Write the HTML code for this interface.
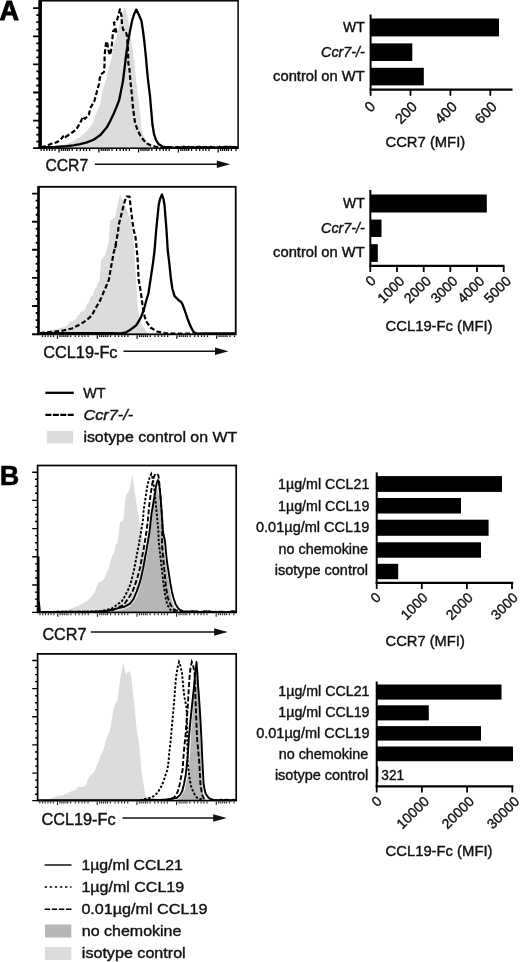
<!DOCTYPE html>
<html><head><meta charset="utf-8"><title>Figure</title>
<style>html,body{margin:0;padding:0;background:#fff;}body{width:520px;height:962px;overflow:hidden;}svg{display:block;}svg text{font-family:"Liberation Sans",sans-serif;}</style>
</head><body>
<svg width="520" height="962" viewBox="0 0 520 962" >
<rect width="520" height="962" fill="#fff"/>
<text x="-0.5" y="19.6" font-size="27" text-anchor="start" fill="#000" stroke="#000" stroke-width="0.9" font-weight="bold">A</text>
<path d="M50.0,148.3 L60.0,145.8 L66.7,143.7 L73.5,141.0 L80.2,137.0 L86.9,131.0 L92.3,124.2 L96.3,113.5 L100.4,104.0 L101.5,96.0 L103.5,87.5 L107.0,77.0 L108.5,67.5 L111.7,57.7 L113.5,45.0 L116.5,38.5 L119.0,27.0 L121.0,19.0 L123.0,11.0 L124.6,6.7 L126.0,11.0 L128.0,19.0 L129.5,29.0 L131.0,38.5 L132.5,48.0 L133.8,57.7 L135.0,67.5 L135.8,77.0 L137.5,92.5 L139.2,105.0 L140.3,114.4 L140.8,122.0 L141.5,129.0 L143.5,135.0 L146.3,141.0 L150.0,145.0 L155.0,148.3Z" fill="#dcdcdc"/>
<path d="M41.0,147.3 L47.5,145.5 L52.0,143.5 L56.0,142.5 L60.0,140.4 L64.0,135.3 L65.4,137.0 L70.8,133.6 L76.2,129.6 L80.2,122.9 L82.9,116.8 L84.9,118.8 L88.9,114.8 L90.3,108.0 L94.3,101.3 L97.3,90.0 L99.0,84.0 L99.8,78.3 L100.9,74.0 L102.5,73.2 L104.0,72.0 L104.6,63.5 L104.6,56.0 L105.3,48.0 L106.0,43.5 L107.0,41.3 L108.3,50.0 L110.2,55.0 L111.5,47.6 L112.3,40.2 L113.0,31.7 L114.2,30.0 L116.7,33.3 L115.2,27.5 L113.8,22.8 L116.7,21.2 L118.3,15.9 L119.9,9.3 L121.5,15.9 L122.0,24.3 L123.1,29.6 L125.7,31.7 L126.8,35.0 L127.3,40.2 L127.9,47.6 L128.4,63.5 L129.4,68.8 L130.4,81.0 L132.0,96.0 L133.0,108.0 L135.0,122.5 L137.5,130.0 L140.0,135.0 L143.5,140.0 L147.5,143.7 L151.0,145.5 L155.0,146.6 L162.0,147.8 L162.0,147.6 L164.2,147.3 L166.4,147.4 L168.6,147.2 L170.8,147.2 L173.0,147.7 L175.2,147.8 L177.4,147.0 L179.6,147.5 L181.8,147.6 L184.0,146.8 L186.2,147.3 L188.4,147.0 L190.6,147.3 L192.8,147.2 L195.0,147.6 L197.2,147.2 L199.4,146.9 L201.6,147.3 L203.8,147.1 L206.0,147.1 L208.2,147.7 L210.4,147.0 L212.6,147.2 L214.8,147.5 L217.0,147.8 L219.2,146.9 L221.4,147.3 L223.6,147.1 L225.8,146.9 L228.0,147.1 L230.2,146.9 L232.4,147.4 L234.6,147.0 L236.8,147.4 L237.5,147.7" fill="none" stroke="#000" stroke-width="2.2" stroke-dasharray="4.8 2.4" stroke-linejoin="round"/>
<path d="M41.0,147.1 L55.0,147.0 L66.7,146.2 L73.5,145.4 L80.2,144.1 L86.9,142.4 L93.6,139.7 L100.4,135.0 L107.1,126.9 L110.5,120.5 L113.8,113.5 L116.5,107.0 L119.2,100.0 L121.0,91.0 L122.8,82.0 L124.0,73.0 L126.0,56.0 L128.0,42.0 L130.0,31.0 L132.0,21.0 L134.0,14.5 L136.3,9.6 L138.5,14.0 L141.5,21.0 L143.0,31.0 L144.4,42.0 L146.0,58.0 L147.3,73.0 L148.5,84.0 L150.0,96.0 L151.0,108.0 L152.5,125.0 L154.0,134.0 L156.0,140.0 L158.5,144.0 L162.5,146.5 L168.0,147.7 L166.4,147.4 L168.6,147.2 L170.8,147.2 L173.0,147.7 L175.2,147.8 L177.4,147.0 L179.6,147.5 L181.8,147.6 L184.0,146.8 L186.2,147.3 L188.4,147.0 L190.6,147.3 L192.8,147.2 L195.0,147.6 L197.2,147.2 L199.4,146.9 L201.6,147.3 L203.8,147.1 L206.0,147.1 L208.2,147.7 L210.4,147.0 L212.6,147.2 L214.8,147.5 L217.0,147.8 L219.2,146.9 L221.4,147.3 L223.6,147.1 L225.8,146.9 L228.0,147.1 L230.2,146.9 L232.4,147.4 L234.6,147.0 L236.8,147.4 L237.5,147.7" fill="none" stroke="#000" stroke-width="2.3" stroke-linejoin="round"/>
<rect x="39.3" y="0.8" width="198.8" height="147.4" fill="none" stroke="#000" stroke-width="1.5"/>
<line x1="40.25" y1="0.8" x2="40.25" y2="148.2" stroke="#000" stroke-width="3.4"/>
<path d="M33.1,8.2H39.3M36.3,15.2H39.3M36.3,22.2H39.3M36.3,29.3H39.3M33.1,36.3H39.3M36.3,43.3H39.3M36.3,50.3H39.3M36.3,57.4H39.3M33.1,64.4H39.3M36.3,71.4H39.3M36.3,78.5H39.3M36.3,85.5H39.3M33.1,92.5H39.3M36.3,99.5H39.3M36.3,106.5H39.3M36.3,113.6H39.3M33.1,120.6H39.3M36.3,127.6H39.3M36.3,134.7H39.3M36.3,141.7H39.3M33.1,148.2H39.3" stroke="#000" stroke-width="1.8" fill="none"/>
<path d="M55.0,149.1V151.0M52.2,149.1V151.0M49.5,149.1V151.0M46.8,149.1V151.0M44.0,149.1V151.0M41.2,149.1V151.0M59.0,149.1V152.6M61.4,149.1V151.0M63.4,149.1V151.0M65.4,149.1V151.0M67.4,149.1V151.0M69.3,149.1V151.0M72.2,149.1V151.0M76.8,149.1V151.0M80.3,149.1V151.0M83.6,149.1V151.0M86.4,149.1V151.0M89.6,149.1V151.0M98.8,149.1V152.6M101.2,149.1V151.0M103.2,149.1V151.0M105.2,149.1V151.0M107.2,149.1V151.0M109.1,149.1V151.0M112.0,149.1V151.0M116.6,149.1V151.0M120.1,149.1V151.0M123.4,149.1V151.0M126.2,149.1V151.0M129.4,149.1V151.0M138.6,149.1V152.6M141.0,149.1V151.0M143.0,149.1V151.0M145.0,149.1V151.0M147.0,149.1V151.0M148.9,149.1V151.0M151.8,149.1V151.0M156.4,149.1V151.0M159.9,149.1V151.0M163.2,149.1V151.0M166.0,149.1V151.0M169.2,149.1V151.0M178.4,149.1V152.6M180.8,149.1V151.0M182.8,149.1V151.0M184.8,149.1V151.0M186.8,149.1V151.0M188.7,149.1V151.0M191.6,149.1V151.0M196.2,149.1V151.0M199.7,149.1V151.0M203.0,149.1V151.0M205.8,149.1V151.0M209.0,149.1V151.0M218.2,149.1V152.6M220.6,149.1V151.0M222.6,149.1V151.0M224.6,149.1V151.0M226.6,149.1V151.0M228.5,149.1V151.0M231.4,149.1V151.0M236.0,149.1V151.0" stroke="#111" stroke-width="1.3" fill="none"/>
<text x="45.4" y="170.8" font-size="15.6" text-anchor="start" fill="#111" stroke="#111" stroke-width="0.4" textLength="42.8" lengthAdjust="spacingAndGlyphs">CCR7</text>
<line x1="94.8" y1="164.2" x2="217.8" y2="164.2" stroke="#111" stroke-width="1.5"/>
<path d="M230.3,164.2 L216.8,160.5 L216.8,167.89999999999998Z" fill="#111"/>
<path d="M42.7,334.0 L47.3,331.5 L53.5,329.2 L57.0,329.0 L61.2,327.7 L64.0,327.0 L67.3,325.4 L69.5,322.0 L71.9,320.8 L74.0,320.5 L76.5,318.5 L78.0,315.0 L79.6,314.6 L81.2,311.5 L83.5,311.0 L85.8,308.5 L87.0,304.0 L88.8,303.0 L90.5,297.0 L92.7,295.4 L94.5,289.0 L96.5,287.7 L97.5,283.0 L99.6,280.0 L101.0,260.0 L105.0,255.0 L108.7,242.5 L110.0,221.0 L115.0,217.5 L117.5,205.0 L119.0,198.0 L120.4,194.5 L122.3,199.2 L126.2,208.5 L129.2,216.2 L130.8,220.8 L133.1,236.2 L134.4,251.5 L135.4,270.0 L136.5,285.0 L137.0,296.0 L138.0,311.5 L140.8,322.3 L145.4,330.2 L149.5,334.0Z" fill="#dcdcdc"/>
<path d="M40.0,333.2 L44.2,332.6 L55.0,331.7 L64.2,330.3 L71.9,328.5 L79.6,324.6 L85.8,320.8 L91.9,315.4 L95.0,309.2 L99.6,301.5 L104.2,290.8 L106.5,285.5 L108.8,280.0 L110.5,270.0 L113.7,252.5 L116.0,245.0 L115.0,248.0 L118.0,232.0 L118.7,225.0 L122.5,210.0 L124.5,202.0 L126.5,196.5 L129.5,196.5 L131.0,210.0 L132.5,222.0 L133.7,230.0 L135.5,237.0 L137.5,257.5 L138.7,280.0 L140.0,287.0 L141.2,295.0 L142.5,305.0 L144.0,314.0 L146.0,321.0 L150.5,327.5 L157.0,331.5 L165.0,333.2 L175.0,333.5 L185.0,333.5 L193.0,333.6" fill="none" stroke="#000" stroke-width="2.2" stroke-dasharray="4.8 2.4" stroke-linejoin="round"/>
<path d="M40.0,333.1 L60.0,333.1 L90.0,333.1 L110.0,333.2 L121.0,333.4 L126.0,332.3 L130.0,330.0 L136.2,325.4 L140.8,317.7 L143.8,310.0 L146.2,300.8 L148.5,293.0 L150.8,277.7 L153.1,262.3 L154.6,250.0 L156.2,230.0 L158.7,205.0 L160.0,199.0 L162.0,194.5 L163.5,199.0 L164.5,205.0 L166.5,230.0 L167.7,250.0 L169.2,262.3 L170.8,277.7 L172.3,288.5 L174.6,296.2 L177.0,298.5 L179.2,300.8 L181.0,301.8 L182.3,303.8 L184.6,310.0 L187.7,319.2 L190.8,326.9 L193.8,332.3 L197.0,333.6 L205.0,333.4 L235.5,333.4" fill="none" stroke="#000" stroke-width="2.3" stroke-linejoin="round"/>
<rect x="38.3" y="186.8" width="197.4" height="147.5" fill="none" stroke="#000" stroke-width="1.8"/>
<line x1="38.60" y1="186.8" x2="38.60" y2="334.3" stroke="#000" stroke-width="2.4"/>
<path d="M32.1,193.6H38.3M35.7,200.6H38.3M35.7,207.7H38.3M35.7,214.7H38.3M32.1,221.7H38.3M35.7,228.7H38.3M35.7,235.8H38.3M35.7,242.8H38.3M32.1,249.8H38.3M35.7,256.8H38.3M35.7,263.8H38.3M35.7,270.9H38.3M32.1,277.9H38.3M35.7,284.9H38.3M35.7,291.9H38.3M35.7,299.0H38.3M32.1,306.0H38.3M35.7,313.0H38.3M35.7,320.1H38.3M35.7,327.1H38.3M32.1,334.3H38.3" stroke="#000" stroke-width="1.9" fill="none"/>
<path d="M53.5,335.2V337.1M50.8,335.2V337.1M48.0,335.2V337.1M45.2,335.2V337.1M42.5,335.2V337.1M57.5,335.2V338.7M59.9,335.2V337.1M61.9,335.2V337.1M63.9,335.2V337.1M65.9,335.2V337.1M67.8,335.2V337.1M70.7,335.2V337.1M75.3,335.2V337.1M78.8,335.2V337.1M82.1,335.2V337.1M84.9,335.2V337.1M88.1,335.2V337.1M97.3,335.2V338.7M99.7,335.2V337.1M101.7,335.2V337.1M103.7,335.2V337.1M105.7,335.2V337.1M107.6,335.2V337.1M110.5,335.2V337.1M115.1,335.2V337.1M118.6,335.2V337.1M121.9,335.2V337.1M124.7,335.2V337.1M127.9,335.2V337.1M137.1,335.2V338.7M139.5,335.2V337.1M141.5,335.2V337.1M143.5,335.2V337.1M145.5,335.2V337.1M147.4,335.2V337.1M150.3,335.2V337.1M154.9,335.2V337.1M158.4,335.2V337.1M161.7,335.2V337.1M164.5,335.2V337.1M167.7,335.2V337.1M176.9,335.2V338.7M179.3,335.2V337.1M181.3,335.2V337.1M183.3,335.2V337.1M185.3,335.2V337.1M187.2,335.2V337.1M190.1,335.2V337.1M194.7,335.2V337.1M198.2,335.2V337.1M201.5,335.2V337.1M204.3,335.2V337.1M207.5,335.2V337.1M216.7,335.2V338.7M219.1,335.2V337.1M221.1,335.2V337.1M223.1,335.2V337.1M225.1,335.2V337.1M227.0,335.2V337.1M229.9,335.2V337.1M234.5,335.2V337.1" stroke="#111" stroke-width="1.3" fill="none"/>
<text x="43.3" y="358.3" font-size="15.6" text-anchor="start" fill="#111" stroke="#111" stroke-width="0.4" textLength="74.2" lengthAdjust="spacingAndGlyphs">CCL19-Fc</text>
<line x1="123.5" y1="351.3" x2="216.0" y2="351.3" stroke="#111" stroke-width="1.5"/>
<path d="M228.5,351.3 L215.0,347.6 L215.0,355.0Z" fill="#111"/>
<line x1="45.4" y1="392.8" x2="73.8" y2="392.8" stroke="#000" stroke-width="2.3"/>
<line x1="45.4" y1="414.8" x2="73.8" y2="414.8" stroke="#000" stroke-width="2.3" stroke-dasharray="6 1.45"/>
<rect x="46.8" y="431" width="26.3" height="12.5" fill="#dcdcdc"/>
<text x="83.2" y="398.2" font-size="15.3" text-anchor="start" fill="#111" stroke="#111" stroke-width="0.4" textLength="22.3" lengthAdjust="spacingAndGlyphs">WT</text>
<text x="83.4" y="420.4" font-size="15.3" text-anchor="start" fill="#111" stroke="#111" stroke-width="0.4" textLength="49.8" lengthAdjust="spacingAndGlyphs" font-style="italic">Ccr7-/-</text>
<text x="83.4" y="441.8" font-size="15.3" text-anchor="start" fill="#111" stroke="#111" stroke-width="0.4" textLength="153.8" lengthAdjust="spacingAndGlyphs">isotype control on WT</text>
<rect x="370.6" y="18.5" width="128.4" height="17.9" fill="#000"/>
<rect x="370.6" y="43.4" width="41.7" height="17.6" fill="#000"/>
<rect x="370.6" y="67.8" width="53.2" height="17.6" fill="#000"/>
<line x1="370.6" y1="14.5" x2="370.6" y2="90.6" stroke="#000" stroke-width="2"/>
<line x1="369.6" y1="89.6" x2="512.5" y2="89.6" stroke="#000" stroke-width="2.2"/>
<line x1="370.6" y1="89.6" x2="370.6" y2="95.8" stroke="#000" stroke-width="1.8"/>
<text x="376.3" y="107.2" font-size="14.5" text-anchor="end" fill="#111" stroke="#111" stroke-width="0.4" transform="rotate(-45 376.3 107.2)">0</text>
<line x1="410.5" y1="89.6" x2="410.5" y2="95.8" stroke="#000" stroke-width="1.8"/>
<text x="418.0" y="107.6" font-size="14.5" text-anchor="end" fill="#111" stroke="#111" stroke-width="0.4" transform="rotate(-45 418.0 107.6)">200</text>
<line x1="450.4" y1="89.6" x2="450.4" y2="95.8" stroke="#000" stroke-width="1.8"/>
<text x="457.9" y="107.6" font-size="14.5" text-anchor="end" fill="#111" stroke="#111" stroke-width="0.4" transform="rotate(-45 457.9 107.6)">400</text>
<line x1="490.3" y1="89.6" x2="490.3" y2="95.8" stroke="#000" stroke-width="1.8"/>
<text x="497.8" y="107.6" font-size="14.5" text-anchor="end" fill="#111" stroke="#111" stroke-width="0.4" transform="rotate(-45 497.8 107.6)">600</text>
<text x="364.7" y="32.2" font-size="14" text-anchor="end" fill="#111" stroke="#111" stroke-width="0.4" textLength="21.7" lengthAdjust="spacingAndGlyphs">WT</text>
<text x="364.7" y="56.5" font-size="14" text-anchor="end" fill="#111" stroke="#111" stroke-width="0.4" textLength="43.6" lengthAdjust="spacingAndGlyphs" font-style="italic">Ccr7-/-</text>
<text x="364.7" y="80.8" font-size="14" text-anchor="end" fill="#111" stroke="#111" stroke-width="0.4" textLength="91.6" lengthAdjust="spacingAndGlyphs">control on WT</text>
<text x="385.5" y="146.70000000000002" font-size="15.2" text-anchor="start" fill="#111" stroke="#111" stroke-width="0.4" textLength="79.7" lengthAdjust="spacingAndGlyphs">CCR7 (MFI)</text>
<rect x="370.3" y="194.5" width="116.5" height="18.0" fill="#000"/>
<rect x="370.3" y="219.6" width="11.2" height="17.4" fill="#000"/>
<rect x="370.3" y="244.2" width="7.5" height="17.7" fill="#000"/>
<line x1="370.3" y1="189.9" x2="370.3" y2="266.8" stroke="#000" stroke-width="2"/>
<line x1="369.3" y1="265.8" x2="504.3" y2="265.8" stroke="#000" stroke-width="2.2"/>
<line x1="370.3" y1="265.8" x2="370.3" y2="272.0" stroke="#000" stroke-width="1.8"/>
<text x="376.7" y="281.6" font-size="14" text-anchor="end" fill="#111" stroke="#111" stroke-width="0.4" transform="rotate(-45 376.7 281.6)">0</text>
<line x1="397.0" y1="265.8" x2="397.0" y2="272.0" stroke="#000" stroke-width="1.8"/>
<text x="405.2" y="282.0" font-size="14" text-anchor="end" fill="#111" stroke="#111" stroke-width="0.4" transform="rotate(-45 405.2 282.0)">1000</text>
<line x1="423.7" y1="265.8" x2="423.7" y2="272.0" stroke="#000" stroke-width="1.8"/>
<text x="431.9" y="282.0" font-size="14" text-anchor="end" fill="#111" stroke="#111" stroke-width="0.4" transform="rotate(-45 431.9 282.0)">2000</text>
<line x1="450.3" y1="265.8" x2="450.3" y2="272.0" stroke="#000" stroke-width="1.8"/>
<text x="458.5" y="282.0" font-size="14" text-anchor="end" fill="#111" stroke="#111" stroke-width="0.4" transform="rotate(-45 458.5 282.0)">3000</text>
<line x1="477.0" y1="265.8" x2="477.0" y2="272.0" stroke="#000" stroke-width="1.8"/>
<text x="485.2" y="282.0" font-size="14" text-anchor="end" fill="#111" stroke="#111" stroke-width="0.4" transform="rotate(-45 485.2 282.0)">4000</text>
<line x1="503.7" y1="265.8" x2="503.7" y2="272.0" stroke="#000" stroke-width="1.8"/>
<text x="511.9" y="282.0" font-size="14" text-anchor="end" fill="#111" stroke="#111" stroke-width="0.4" transform="rotate(-45 511.9 282.0)">5000</text>
<text x="364.7" y="208.2" font-size="14" text-anchor="end" fill="#111" stroke="#111" stroke-width="0.4" textLength="21.7" lengthAdjust="spacingAndGlyphs">WT</text>
<text x="364.7" y="232.5" font-size="14" text-anchor="end" fill="#111" stroke="#111" stroke-width="0.4" textLength="43.6" lengthAdjust="spacingAndGlyphs" font-style="italic">Ccr7-/-</text>
<text x="364.7" y="257.3" font-size="14" text-anchor="end" fill="#111" stroke="#111" stroke-width="0.4" textLength="91.6" lengthAdjust="spacingAndGlyphs">control on WT</text>
<text x="385.5" y="331.2" font-size="15.2" text-anchor="start" fill="#111" stroke="#111" stroke-width="0.4" textLength="107.00000000000001" lengthAdjust="spacingAndGlyphs">CCL19-Fc (MFI)</text>
<text x="-0.3" y="485" font-size="27" text-anchor="start" fill="#000" stroke="#000" stroke-width="0.5" font-weight="bold">B</text>
<path d="M55.0,612.4 L63.0,611.0 L70.0,609.0 L78.0,606.0 L84.0,603.0 L88.5,599.7 L92.0,596.0 L94.8,592.3 L97.0,586.0 L99.0,581.7 L101.0,582.0 L103.3,579.6 L105.0,577.0 L107.5,571.0 L109.0,568.0 L110.7,560.6 L112.5,555.0 L113.9,554.0 L115.4,545.4 L117.5,542.5 L119.0,530.0 L120.0,522.5 L122.5,521.0 L123.7,517.5 L125.0,503.0 L126.0,495.0 L128.5,492.0 L130.0,487.5 L131.5,479.0 L132.5,474.5 L133.7,485.0 L135.5,497.0 L137.5,510.0 L141.0,530.0 L145.0,550.0 L150.0,575.0 L156.0,600.0 L160.0,612.4Z" fill="#dcdcdc"/>
<path d="M112.0,612.4 L117.5,611.0 L124.0,609.5 L130.0,606.7 L134.0,602.0 L137.6,596.0 L140.0,588.0 L142.9,577.0 L145.0,567.0 L147.0,556.0 L148.7,545.0 L150.3,532.7 L152.0,515.0 L153.5,500.0 L155.0,492.5 L156.5,488.0 L158.0,491.0 L159.5,500.0 L161.0,515.0 L163.0,532.7 L164.0,545.0 L165.0,556.0 L166.5,568.0 L168.3,579.0 L170.0,590.0 L171.4,598.3 L174.0,606.0 L176.7,610.0 L181.0,612.4Z" fill="#b6b6b6"/>
<path d="M40.0,611.9 L80.0,611.7 L100.0,611.4 L106.0,610.0 L111.0,609.0 L116.0,605.5 L121.7,601.4 L125.0,596.0 L128.0,590.0 L130.5,584.0 L132.3,577.0 L134.0,570.0 L135.5,562.0 L137.0,554.0 L138.7,545.4 L140.5,535.0 L143.0,520.0 L143.7,510.0 L145.5,498.0 L147.5,485.0 L149.5,478.0 L151.3,474.0 L153.0,479.5 L154.0,487.0 L155.0,495.6 L156.0,506.0 L157.0,516.0 L158.4,532.0 L158.7,541.0 L161.0,562.0 L162.5,575.0 L164.0,587.7 L165.5,597.0 L167.2,604.6 L170.4,610.0 L176.0,611.8" fill="none" stroke="#000" stroke-width="1.9" stroke-dasharray="2.5 1.7"/>
<path d="M40.0,611.9 L100.0,611.6 L108.0,610.5 L113.0,610.0 L119.0,607.0 L123.8,604.6 L128.0,599.0 L132.3,592.0 L135.0,585.0 L137.6,577.0 L140.0,568.0 L141.8,558.0 L143.5,550.0 L145.0,541.0 L146.5,531.0 L147.6,522.6 L149.6,502.4 L151.0,492.0 L152.3,483.5 L153.8,477.0 L155.3,474.0 L157.0,473.8 L158.4,475.5 L159.2,482.0 L159.7,489.0 L161.0,502.4 L162.4,522.6 L162.0,545.4 L164.0,566.5 L165.0,577.0 L166.0,587.7 L168.0,598.0 L170.4,604.6 L173.5,609.0 L176.7,610.5 L182.0,611.8" fill="none" stroke="#000" stroke-width="1.9" stroke-dasharray="5 2.2"/>
<path d="M38.5,611.9 L95.0,611.7 L107.0,611.0 L113.0,609.5 L119.6,607.8 L125.0,606.5 L130.0,603.6 L133.5,599.0 L136.5,592.0 L139.0,585.0 L140.8,579.0 L143.0,569.0 L145.0,558.0 L146.5,550.0 L148.0,541.0 L149.5,532.0 L151.6,513.0 L153.0,505.0 L154.3,497.0 L155.7,488.0 L157.0,482.0 L158.0,480.0 L159.0,482.5 L160.4,495.6 L161.7,513.0 L163.0,532.0 L165.0,541.0 L166.0,552.0 L167.0,562.0 L168.7,572.5 L170.4,583.5 L172.0,592.0 L173.5,598.0 L175.5,604.0 L177.8,607.8 L180.0,610.0 L183.0,611.2 L185.0,611.5 L187.5,611.4 L190.0,611.4 L192.5,611.3 L195.0,611.4 L197.5,611.3 L200.0,612.1 L202.5,611.7 L205.0,611.3 L207.5,611.5 L210.0,611.3 L212.5,612.0 L215.0,611.7 L217.5,611.9 L220.0,611.6 L222.5,611.6 L225.0,612.1 L227.5,611.9 L230.0,611.8 L232.5,611.3 L235.0,611.4 L236.5,611.9" fill="none" stroke="#000" stroke-width="1.9" stroke-linejoin="round"/>
<path d="M37.6,556.5 L39.5,556.5 L39.6,600 L40.3,606 L41,612.4 L37.6,612.4Z" fill="#000"/>
<rect x="37.6" y="465.5" width="198.6" height="146.9" fill="none" stroke="#000" stroke-width="1.7"/>
<path d="M32.2,472.2H37.6M35.0,479.2H37.6M35.0,486.3H37.6M35.0,493.3H37.6M32.2,500.4H37.6M35.0,507.4H37.6M35.0,514.5H37.6M35.0,521.5H37.6M32.2,528.6H37.6M35.0,535.6H37.6M35.0,542.7H37.6M35.0,549.8H37.6M32.2,556.8H37.6M35.0,563.9H37.6M35.0,570.9H37.6M35.0,578.0H37.6M32.2,585.0H37.6M35.0,592.1H37.6M35.0,599.1H37.6M35.0,606.2H37.6M32.2,612.4H37.6" stroke="#000" stroke-width="1.4" fill="none"/>
<path d="M53.8,613.3V615.2M51.0,613.3V615.2M48.3,613.3V615.2M45.5,613.3V615.2M42.8,613.3V615.2M40.0,613.3V615.2M57.8,613.3V616.8M60.2,613.3V615.2M62.2,613.3V615.2M64.2,613.3V615.2M66.2,613.3V615.2M68.0,613.3V615.2M70.9,613.3V615.2M75.5,613.3V615.2M79.0,613.3V615.2M82.3,613.3V615.2M85.1,613.3V615.2M88.2,613.3V615.2M97.4,613.3V616.8M99.8,613.3V615.2M101.8,613.3V615.2M103.8,613.3V615.2M105.8,613.3V615.2M107.6,613.3V615.2M110.5,613.3V615.2M115.1,613.3V615.2M118.6,613.3V615.2M121.9,613.3V615.2M124.7,613.3V615.2M127.8,613.3V615.2M137.0,613.3V616.8M139.4,613.3V615.2M141.4,613.3V615.2M143.4,613.3V615.2M145.4,613.3V615.2M147.2,613.3V615.2M150.1,613.3V615.2M154.7,613.3V615.2M158.2,613.3V615.2M161.5,613.3V615.2M164.3,613.3V615.2M167.4,613.3V615.2M176.6,613.3V616.8M179.0,613.3V615.2M181.0,613.3V615.2M183.0,613.3V615.2M185.0,613.3V615.2M186.8,613.3V615.2M189.7,613.3V615.2M194.3,613.3V615.2M197.8,613.3V615.2M201.1,613.3V615.2M203.9,613.3V615.2M207.0,613.3V615.2M216.2,613.3V616.8M218.6,613.3V615.2M220.6,613.3V615.2M222.6,613.3V615.2M224.6,613.3V615.2M226.4,613.3V615.2M229.3,613.3V615.2M233.9,613.3V615.2" stroke="#222" stroke-width="1.1" fill="none"/>
<text x="42.4" y="639.6" font-size="15.6" text-anchor="start" fill="#111" stroke="#111" stroke-width="0.4" textLength="44.2" lengthAdjust="spacingAndGlyphs">CCR7</text>
<line x1="90.8" y1="632" x2="215.2" y2="632" stroke="#111" stroke-width="1.5"/>
<path d="M227.7,632 L214.2,628.3 L214.2,635.7Z" fill="#111"/>
<path d="M46.0,800.6 L49.0,799.5 L53.0,797.5 L57.5,796.0 L62.0,795.5 L68.0,793.0 L72.0,791.0 L75.0,790.5 L78.7,786.5 L82.0,787.0 L86.0,785.5 L87.5,780.0 L89.2,777.0 L91.0,775.0 L94.5,771.7 L96.2,767.5 L98.7,761.0 L100.0,757.5 L103.0,750.6 L105.0,745.0 L106.0,740.0 L110.0,730.0 L112.0,718.0 L113.7,707.5 L117.5,700.0 L119.0,688.0 L120.0,680.0 L121.5,672.0 L123.0,662.5 L124.2,668.0 L126.2,675.0 L127.5,672.0 L128.7,671.0 L130.0,672.5 L131.2,676.0 L132.5,688.0 L133.7,700.0 L135.0,712.0 L136.2,725.0 L138.0,737.0 L139.8,750.0 L141.5,772.3 L143.3,783.0 L145.0,793.5 L147.6,798.7 L150.0,800.6Z" fill="#dcdcdc"/>
<path d="M176.0,800.6 L180.2,797.7 L184.4,791.0 L186.0,784.0 L187.6,776.5 L189.0,766.0 L190.3,751.0 L190.8,736.0 L192.0,720.0 L193.5,700.0 L194.5,684.0 L195.8,668.0 L196.8,664.0 L197.8,668.0 L198.8,684.0 L199.5,700.0 L200.0,720.0 L200.3,736.0 L201.3,761.7 L202.4,783.0 L203.5,795.6 L206.0,800.6Z" fill="#b6b6b6"/>
<path d="M140.0,800.1 L146.3,798.7 L151.0,797.5 L154.8,795.6 L158.0,792.0 L161.0,787.0 L164.0,780.0 L166.4,772.3 L167.4,770.0 L168.5,762.0 L169.2,753.8 L170.5,742.0 L171.5,730.8 L172.7,718.0 L173.8,705.4 L175.0,690.0 L176.0,677.7 L177.5,668.0 L179.0,662.0 L180.5,666.0 L182.0,673.0 L183.0,684.0 L184.2,696.0 L185.4,702.0 L186.5,707.7 L187.0,720.0 L187.3,740.6 L187.6,761.7 L188.5,770.0 L189.7,778.7 L191.0,786.0 L192.9,791.0 L195.0,795.0 L197.0,797.7 L200.0,799.0 L203.5,799.4" fill="none" stroke="#000" stroke-width="1.9" stroke-dasharray="2.5 1.7"/>
<path d="M150.0,800.1 L165.0,799.9 L170.0,799.0 L173.8,797.7 L176.0,795.0 L178.0,791.0 L179.8,784.0 L181.2,776.5 L182.6,770.0 L183.4,757.5 L184.5,745.0 L185.5,736.0 L186.5,722.0 L187.7,707.7 L188.6,692.0 L189.5,677.7 L190.5,668.0 L191.8,662.0 L193.2,666.0 L194.6,673.0 L195.2,690.0 L195.8,707.7 L196.4,722.0 L197.0,737.7 L198.2,750.0 L199.2,761.7 L199.8,772.0 L200.3,783.0 L201.3,790.0 L202.4,795.6 L204.0,798.5 L205.6,799.4" fill="none" stroke="#000" stroke-width="1.9" stroke-dasharray="5 2.2"/>
<path d="M38.5,800.2 L140.0,800.1 L150.0,799.7 L160.0,800.0 L167.5,799.4 L172.0,798.8 L177.0,797.7 L180.0,795.0 L182.3,791.0 L184.0,784.0 L185.5,776.5 L186.5,768.0 L187.6,757.5 L188.3,748.0 L189.0,736.3 L189.5,730.8 L190.6,719.0 L191.8,707.7 L193.0,696.0 L194.2,684.6 L195.3,672.0 L196.5,662.0 L197.3,672.0 L198.0,684.6 L198.9,696.0 L199.7,707.7 L200.4,719.0 L201.0,730.8 L201.3,736.3 L201.9,750.0 L202.4,761.7 L203.0,772.0 L203.5,783.0 L204.5,789.0 L205.6,793.5 L207.5,796.5 L209.8,798.7 L214.0,800.1 L216.0,800.0 L218.5,800.2 L221.0,799.7 L223.5,800.2 L226.0,799.8 L228.5,800.0 L231.0,800.2 L233.5,799.8 L236.0,800.1" fill="none" stroke="#000" stroke-width="1.9" stroke-linejoin="round"/>
<rect x="37.6" y="653.9" width="198.6" height="146.7" fill="none" stroke="#000" stroke-width="1.7"/>
<path d="M32.2,660.5H37.6M35.0,667.5H37.6M35.0,674.6H37.6M35.0,681.6H37.6M32.2,688.6H37.6M35.0,695.7H37.6M35.0,702.7H37.6M35.0,709.8H37.6M32.2,716.8H37.6M35.0,723.8H37.6M35.0,730.9H37.6M35.0,737.9H37.6M32.2,744.9H37.6M35.0,752.0H37.6M35.0,759.0H37.6M35.0,766.1H37.6M32.2,773.1H37.6M35.0,780.1H37.6M35.0,787.2H37.6M35.0,794.2H37.6M32.2,800.6H37.6" stroke="#000" stroke-width="1.4" fill="none"/>
<path d="M53.5,801.5V803.4M50.8,801.5V803.4M48.0,801.5V803.4M45.2,801.5V803.4M42.5,801.5V803.4M39.8,801.5V803.4M57.5,801.5V805.0M59.9,801.5V803.4M61.9,801.5V803.4M63.9,801.5V803.4M65.9,801.5V803.4M67.8,801.5V803.4M70.7,801.5V803.4M75.3,801.5V803.4M78.7,801.5V803.4M82.0,801.5V803.4M84.8,801.5V803.4M88.0,801.5V803.4M97.2,801.5V805.0M99.6,801.5V803.4M101.6,801.5V803.4M103.6,801.5V803.4M105.6,801.5V803.4M107.5,801.5V803.4M110.4,801.5V803.4M115.0,801.5V803.4M118.4,801.5V803.4M121.7,801.5V803.4M124.5,801.5V803.4M127.7,801.5V803.4M136.9,801.5V805.0M139.3,801.5V803.4M141.3,801.5V803.4M143.3,801.5V803.4M145.3,801.5V803.4M147.2,801.5V803.4M150.1,801.5V803.4M154.7,801.5V803.4M158.1,801.5V803.4M161.4,801.5V803.4M164.2,801.5V803.4M167.4,801.5V803.4M176.6,801.5V805.0M179.0,801.5V803.4M181.0,801.5V803.4M183.0,801.5V803.4M185.0,801.5V803.4M186.9,801.5V803.4M189.8,801.5V803.4M194.4,801.5V803.4M197.8,801.5V803.4M201.1,801.5V803.4M203.9,801.5V803.4M207.1,801.5V803.4M216.3,801.5V805.0M218.7,801.5V803.4M220.7,801.5V803.4M222.7,801.5V803.4M224.7,801.5V803.4M226.6,801.5V803.4M229.5,801.5V803.4M234.1,801.5V803.4" stroke="#222" stroke-width="1.1" fill="none"/>
<text x="41.4" y="825.2" font-size="15.6" text-anchor="start" fill="#111" stroke="#111" stroke-width="0.4" textLength="74.2" lengthAdjust="spacingAndGlyphs">CCL19-Fc</text>
<line x1="122.5" y1="818" x2="214.2" y2="818" stroke="#111" stroke-width="1.5"/>
<path d="M226.7,818 L213.2,814.3 L213.2,821.7Z" fill="#111"/>
<line x1="44.6" y1="865" x2="71.5" y2="865" stroke="#000" stroke-width="1.4"/>
<line x1="44.6" y1="887" x2="71.5" y2="887" stroke="#000" stroke-width="1.4" stroke-dasharray="2.4 2.7"/>
<line x1="44.6" y1="909.2" x2="71.5" y2="909.2" stroke="#000" stroke-width="1.5" stroke-dasharray="5.5 1.6"/>
<rect x="45" y="924.5" width="26.3" height="13" fill="#b6b6b6"/>
<rect x="45" y="947" width="26.3" height="13" fill="#dcdcdc"/>
<text x="81.4" y="869.8" font-size="15.3" text-anchor="start" fill="#111" stroke="#111" stroke-width="0.4" textLength="101.5" lengthAdjust="spacingAndGlyphs">1µg/ml CCL21</text>
<text x="81.4" y="892" font-size="15.3" text-anchor="start" fill="#111" stroke="#111" stroke-width="0.4" textLength="102.8" lengthAdjust="spacingAndGlyphs">1µg/ml CCL19</text>
<text x="81.4" y="914.2" font-size="15.3" text-anchor="start" fill="#111" stroke="#111" stroke-width="0.4" textLength="126" lengthAdjust="spacingAndGlyphs">0.01µg/ml CCL19</text>
<text x="81.8" y="936.3" font-size="15.3" text-anchor="start" fill="#111" stroke="#111" stroke-width="0.4" textLength="99.6" lengthAdjust="spacingAndGlyphs">no chemokine</text>
<text x="81.8" y="958.3" font-size="15.3" text-anchor="start" fill="#111" stroke="#111" stroke-width="0.4" textLength="103.9" lengthAdjust="spacingAndGlyphs">isotype control</text>
<rect x="376.7" y="476.1" width="125.3" height="15.8" fill="#000"/>
<rect x="376.7" y="498" width="84.3" height="15.5" fill="#000"/>
<rect x="376.7" y="519.7" width="111.9" height="16.1" fill="#000"/>
<rect x="376.7" y="542.3" width="104.3" height="15.4" fill="#000"/>
<rect x="376.7" y="563.8" width="21.5" height="15.4" fill="#000"/>
<line x1="376.7" y1="472.4" x2="376.7" y2="583.8" stroke="#000" stroke-width="2"/>
<line x1="375.7" y1="582.8" x2="513.2" y2="582.8" stroke="#000" stroke-width="2.2"/>
<line x1="376.7" y1="582.8" x2="376.7" y2="589.0" stroke="#000" stroke-width="1.8"/>
<text x="381.7" y="598.2" font-size="14" text-anchor="end" fill="#111" stroke="#111" stroke-width="0.4" transform="rotate(-45 381.7 598.2)">0</text>
<line x1="421.8" y1="582.8" x2="421.8" y2="589.0" stroke="#000" stroke-width="1.8"/>
<text x="428.6" y="598.6" font-size="14" text-anchor="end" fill="#111" stroke="#111" stroke-width="0.4" transform="rotate(-45 428.6 598.6)">1000</text>
<line x1="466.9" y1="582.8" x2="466.9" y2="589.0" stroke="#000" stroke-width="1.8"/>
<text x="473.7" y="598.6" font-size="14" text-anchor="end" fill="#111" stroke="#111" stroke-width="0.4" transform="rotate(-45 473.7 598.6)">2000</text>
<line x1="512.0" y1="582.8" x2="512.0" y2="589.0" stroke="#000" stroke-width="1.8"/>
<text x="518.8" y="598.6" font-size="14" text-anchor="end" fill="#111" stroke="#111" stroke-width="0.4" transform="rotate(-45 518.8 598.6)">3000</text>
<text x="369.3" y="489.3" font-size="14.5" text-anchor="end" fill="#111" stroke="#111" stroke-width="0.4" textLength="91.2" lengthAdjust="spacingAndGlyphs">1µg/ml CCL21</text>
<text x="369.3" y="510.8" font-size="14.5" text-anchor="end" fill="#111" stroke="#111" stroke-width="0.4" textLength="91.2" lengthAdjust="spacingAndGlyphs">1µg/ml CCL19</text>
<text x="369.3" y="532.4" font-size="14.5" text-anchor="end" fill="#111" stroke="#111" stroke-width="0.4" textLength="113.3" lengthAdjust="spacingAndGlyphs">0.01µg/ml CCL19</text>
<text x="368.0" y="553.8" font-size="14.5" text-anchor="end" fill="#111" stroke="#111" stroke-width="0.4" textLength="89.5" lengthAdjust="spacingAndGlyphs">no chemokine</text>
<text x="368.0" y="575.2" font-size="14.5" text-anchor="end" fill="#111" stroke="#111" stroke-width="0.4" textLength="93.3" lengthAdjust="spacingAndGlyphs">isotype control</text>
<text x="385.5" y="646.4" font-size="15.2" text-anchor="start" fill="#111" stroke="#111" stroke-width="0.4" textLength="79.30000000000003" lengthAdjust="spacingAndGlyphs">CCR7 (MFI)</text>
<rect x="376.7" y="684.5" width="124.8" height="15.1" fill="#000"/>
<rect x="376.7" y="705.3" width="52.1" height="15.1" fill="#000"/>
<rect x="376.7" y="726.1" width="104.3" height="14.5" fill="#000"/>
<rect x="376.7" y="746.5" width="136.3" height="14.7" fill="#000"/>
<rect x="376.7" y="766.5" width="1.6" height="15.5" fill="#000"/>
<line x1="376.7" y1="681.5" x2="376.7" y2="787.3" stroke="#000" stroke-width="2"/>
<line x1="375.7" y1="786.3" x2="513.2" y2="786.3" stroke="#000" stroke-width="2.2"/>
<line x1="376.7" y1="786.3" x2="376.7" y2="792.5" stroke="#000" stroke-width="1.8"/>
<text x="382.9" y="801.9" font-size="14" text-anchor="end" fill="#111" stroke="#111" stroke-width="0.4" transform="rotate(-45 382.9 801.9)">0</text>
<line x1="421.9" y1="786.3" x2="421.9" y2="792.5" stroke="#000" stroke-width="1.8"/>
<text x="429.9" y="802.3" font-size="14" text-anchor="end" fill="#111" stroke="#111" stroke-width="0.4" transform="rotate(-45 429.9 802.3)">10000</text>
<line x1="467.1" y1="786.3" x2="467.1" y2="792.5" stroke="#000" stroke-width="1.8"/>
<text x="475.1" y="802.3" font-size="14" text-anchor="end" fill="#111" stroke="#111" stroke-width="0.4" transform="rotate(-45 475.1 802.3)">20000</text>
<line x1="512.3" y1="786.3" x2="512.3" y2="792.5" stroke="#000" stroke-width="1.8"/>
<text x="520.3" y="802.3" font-size="14" text-anchor="end" fill="#111" stroke="#111" stroke-width="0.4" transform="rotate(-45 520.3 802.3)">30000</text>
<text x="369.5" y="695.8" font-size="14.5" text-anchor="end" fill="#111" stroke="#111" stroke-width="0.4" textLength="91.2" lengthAdjust="spacingAndGlyphs">1µg/ml CCL21</text>
<text x="369.5" y="716.9" font-size="14.5" text-anchor="end" fill="#111" stroke="#111" stroke-width="0.4" textLength="91.2" lengthAdjust="spacingAndGlyphs">1µg/ml CCL19</text>
<text x="369.5" y="738.2" font-size="14.5" text-anchor="end" fill="#111" stroke="#111" stroke-width="0.4" textLength="113.3" lengthAdjust="spacingAndGlyphs">0.01µg/ml CCL19</text>
<text x="368.2" y="759" font-size="14.5" text-anchor="end" fill="#111" stroke="#111" stroke-width="0.4" textLength="89.5" lengthAdjust="spacingAndGlyphs">no chemokine</text>
<text x="368.2" y="780.4" font-size="14.5" text-anchor="end" fill="#111" stroke="#111" stroke-width="0.4" textLength="93.3" lengthAdjust="spacingAndGlyphs">isotype control</text>
<text x="385.5" y="855.8" font-size="15.2" text-anchor="start" fill="#111" stroke="#111" stroke-width="0.4" textLength="107.00000000000001" lengthAdjust="spacingAndGlyphs">CCL19-Fc (MFI)</text>
<text x="381.3" y="780.2" font-size="14" text-anchor="start" fill="#111" stroke="#111" stroke-width="0.4" textLength="22.8" lengthAdjust="spacingAndGlyphs">321</text>
</svg>
</body></html>
